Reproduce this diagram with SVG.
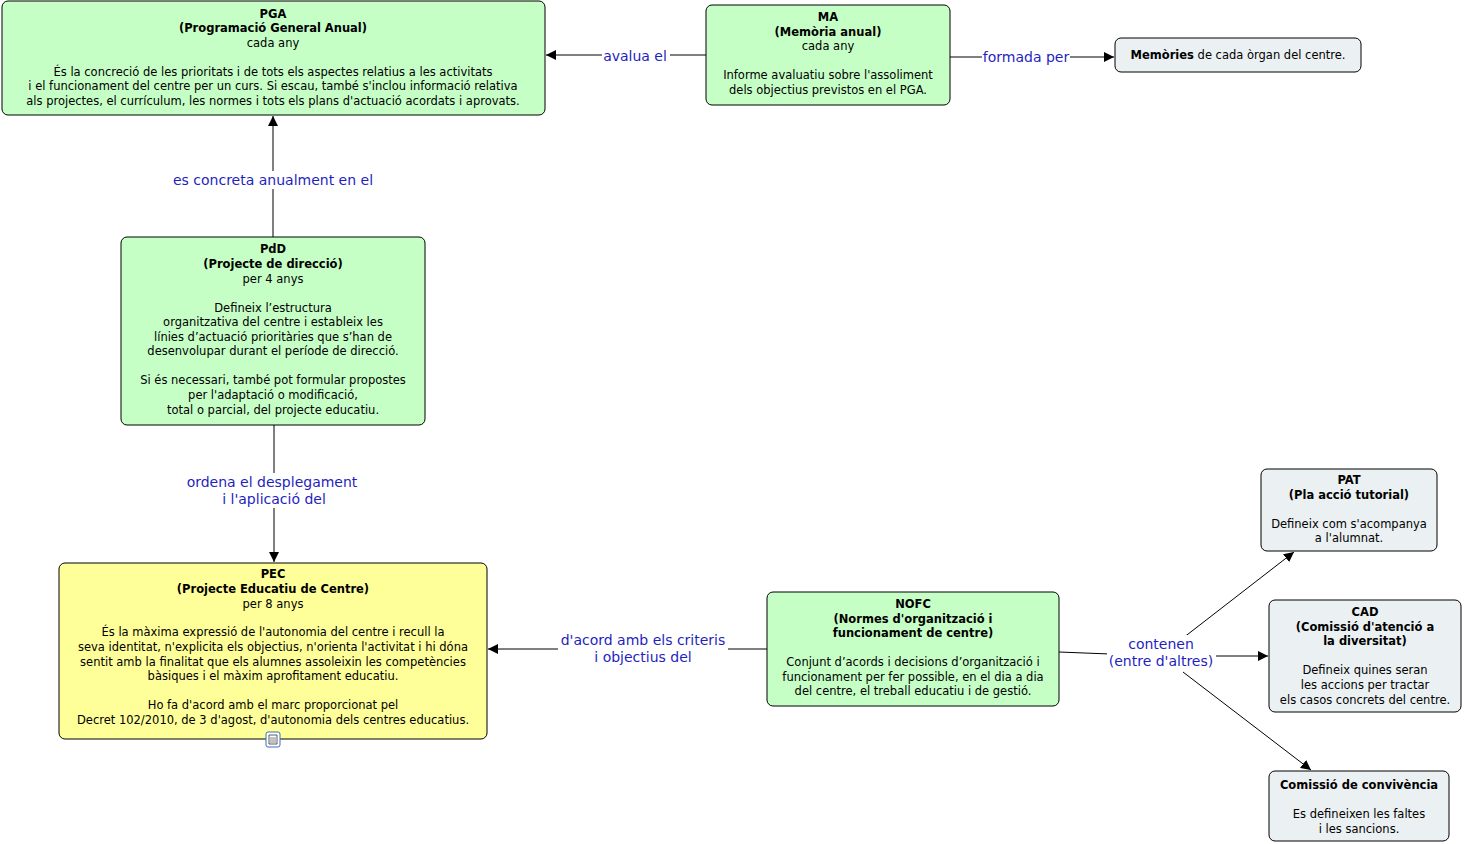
<svg xmlns="http://www.w3.org/2000/svg" width="1464" height="844" viewBox="0 0 1464 844">
<style>
.n{stroke:#000;stroke-width:1}
.g{fill:#c6ffc6}.y{fill:#ffff99}.b{fill:#ebf0f2}
text{font-family:"DejaVu Sans",Verdana,sans-serif;font-size:11.5px;fill:#000;text-anchor:middle}
.t{font-weight:bold}
.l{font-size:14px;fill:#1f1fbf}
.c line,.c polyline{stroke:#000;stroke-width:1;fill:none}
.lb{fill:#fff}
</style>
<defs><marker id="a" viewBox="0 0 10 10" refX="10" refY="5" markerWidth="10" markerHeight="10" markerUnits="userSpaceOnUse" orient="auto"><path d="M0,0L10,5L0,10z" fill="#000"/></marker></defs>
<g class="c">
<line x1="706" y1="55" x2="546" y2="55" marker-end="url(#a)"/>
<line x1="950" y1="57" x2="1114" y2="57" marker-end="url(#a)"/>
<line x1="273" y1="237" x2="273" y2="116" marker-end="url(#a)"/>
<line x1="274" y1="425" x2="274" y2="562" marker-end="url(#a)"/>
<line x1="767" y1="649" x2="488" y2="649" marker-end="url(#a)"/>
<line x1="1059" y1="652" x2="1110" y2="654"/>
<line x1="1183" y1="638" x2="1294" y2="552" marker-end="url(#a)"/>
<line x1="1215" y1="656" x2="1268" y2="656" marker-end="url(#a)"/>
<line x1="1183" y1="672" x2="1311" y2="770" marker-end="url(#a)"/>
<rect class="lb" x="602" y="46" width="68" height="18"/>
<rect class="lb" x="982" y="48" width="88" height="18"/>
<rect class="lb" x="170" y="171" width="206" height="18"/>
<rect class="lb" x="185" y="473" width="174" height="35"/>
<rect class="lb" x="558" y="631" width="170" height="35"/>
<rect class="lb" x="1107" y="635" width="109" height="35"/>
<text class="l" x="635" y="61">avalua el</text>
<text class="l" x="1026" y="62">formada per</text>
<text class="l" x="273" y="185">es concreta anualment en el</text>
<text class="l" x="272" y="487">ordena el desplegament</text>
<text class="l" x="274" y="504">i l'aplicació del</text>
<text class="l" x="643" y="645">d'acord amb els criteris</text>
<text class="l" x="643" y="662">i objectius del</text>
<text class="l" x="1161" y="649">contenen</text>
<text class="l" x="1161" y="666">(entre d'altres)</text>
</g>
<g id="PGA"><rect class="n g" x="2" y="1" width="543" height="114" rx="6"/>
<text class="t" x="273" y="18">PGA</text><text class="t" x="273" y="32">(Programació General Anual)</text><text x="273" y="47">cada any</text>
<text x="273" y="76">És la concreció de les prioritats i de tots els aspectes relatius a les activitats</text>
<text x="273" y="90">i el funcionament del centre per un curs. Si escau, també s'inclou informació relativa</text>
<text x="273" y="105">als projectes, el currículum, les normes i tots els plans d'actuació acordats i aprovats.</text></g>
<g id="MA"><rect class="n g" x="706" y="5" width="244" height="100" rx="6"/>
<text class="t" x="828" y="21">MA</text><text class="t" x="828" y="36">(Memòria anual)</text><text x="828" y="50">cada any</text>
<text x="828" y="79">Informe avaluatiu sobre l'assoliment</text><text x="828" y="94">dels objectius previstos en el PGA.</text></g>
<g id="MEM"><rect class="n b" x="1115" y="38" width="246" height="34" rx="6"/>
<text x="1238" y="59"><tspan class="t">Memòries</tspan> de cada òrgan del centre.</text></g>
<g id="PdD"><rect class="n g" x="121" y="237" width="304" height="188" rx="6"/>
<text class="t" x="273" y="253">PdD</text><text class="t" x="273" y="268">(Projecte de direcció)</text><text x="273" y="283">per 4 anys</text>
<text x="273" y="312">Defineix l’estructura</text><text x="273" y="326">organitzativa del centre i estableix les</text>
<text x="273" y="341">línies d’actuació prioritàries que s’han de</text><text x="273" y="355">desenvolupar durant el període de direcció.</text>
<text x="273" y="384">Si és necessari, també pot formular propostes</text><text x="273" y="399">per l'adaptació o modificació,</text><text x="273" y="414">total o parcial, del projecte educatiu.</text></g>
<g id="PEC"><rect class="n y" x="59" y="563" width="428" height="176" rx="6"/>
<text class="t" x="273" y="578">PEC</text><text class="t" x="273" y="593">(Projecte Educatiu de Centre)</text><text x="273" y="608">per 8 anys</text>
<text x="273" y="636">És la màxima expressió de l'autonomia del centre i recull la</text>
<text x="273" y="651">seva identitat, n'explicita els objectius, n'orienta l'activitat i hi dóna</text>
<text x="273" y="666">sentit amb la finalitat que els alumnes assoleixin les competències</text>
<text x="273" y="680">bàsiques i el màxim aprofitament educatiu.</text>
<text x="273" y="709">Ho fa d'acord amb el marc proporcionat pel</text>
<text x="273" y="724">Decret 102/2010, de 3 d'agost, d'autonomia dels centres educatius.</text>
<rect x="266" y="732" width="14" height="15" rx="2" fill="#fff" stroke="#3a6fc0"/><path d="M269,735h8v9h-8z" fill="none" stroke="#333" stroke-width="0.8"/><path d="M270,738h6M270,740h6M270,742h6" stroke="#333" stroke-width="0.6"/></g>
<g id="NOFC"><rect class="n g" x="767" y="592" width="292" height="114" rx="6"/>
<text class="t" x="913" y="608">NOFC</text><text class="t" x="913" y="623">(Normes d'organització i</text><text class="t" x="913" y="637">funcionament de centre)</text>
<text x="913" y="666">Conjunt d’acords i decisions d’organització i</text><text x="913" y="681">funcionament per fer possible, en el dia a dia</text><text x="913" y="695">del centre, el treball educatiu i de gestió.</text></g>
<g id="PAT"><rect class="n b" x="1261" y="469" width="176" height="82" rx="6"/>
<text class="t" x="1349" y="484">PAT</text><text class="t" x="1349" y="499">(Pla acció tutorial)</text>
<text x="1349" y="528">Defineix com s'acompanya</text><text x="1349" y="542">a l'alumnat.</text></g>
<g id="CAD"><rect class="n b" x="1269" y="600" width="192" height="112" rx="6"/>
<text class="t" x="1365" y="616">CAD</text><text class="t" x="1365" y="631">(Comissió d'atenció a</text><text class="t" x="1365" y="645">la diversitat)</text>
<text x="1365" y="674">Defineix quines seran</text><text x="1365" y="689">les accions per tractar</text><text x="1365" y="704">els casos concrets del centre.</text></g>
<g id="CC"><rect class="n b" x="1269" y="771" width="180" height="70" rx="6"/>
<text class="t" x="1359" y="789">Comissió de convivència</text>
<text x="1359" y="818">Es defineixen les faltes</text><text x="1359" y="833">i les sancions.</text></g>
</svg>
